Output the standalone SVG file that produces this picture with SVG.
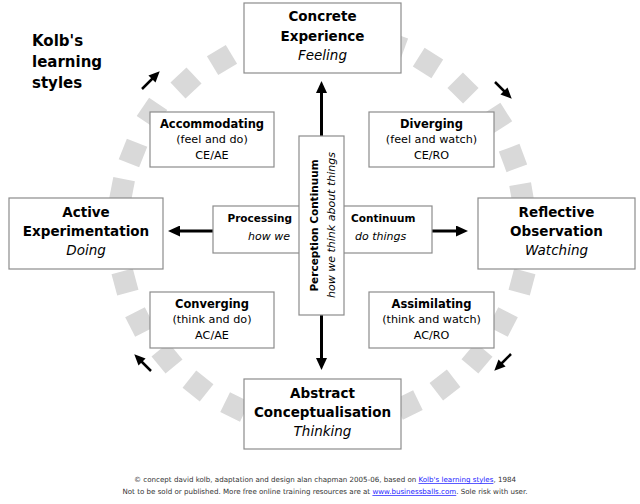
<svg xmlns="http://www.w3.org/2000/svg" width="640" height="504" viewBox="0 0 640 504">
<style>
.box{fill:#fff;stroke:#8c8c8c;stroke-width:1.2}
.sq{fill:#d9d9d9}
text{font-family:"DejaVu Sans",Verdana,sans-serif;fill:#000}
.m{text-anchor:middle}
.bb{font-size:13.5px;font-weight:bold}
.bi{font-size:13.5px;font-style:italic}
.sb{font-size:11.5px;font-weight:bold}
.sr{font-size:11.2px}
.cb{font-size:10.5px;font-weight:bold}
.ci{font-size:11px;font-style:italic}
.arr{stroke:#000;stroke-width:3;fill:none}
.sarr{stroke:#000;stroke-width:2.5;fill:none}
.foot{font-size:7.1px;fill:#333;text-anchor:middle}
.lnk{fill:#1a1aff;text-decoration:underline}
</style>
<defs>
<rect id="s" x="-11" y="-11" width="22" height="22"/>
<marker id="ah" markerUnits="userSpaceOnUse" markerWidth="12" markerHeight="11" refX="6" refY="5.5" orient="auto"><path d="M0,0 L12,5.5 L0,11 z" fill="#000"/></marker>
<marker id="sh" markerUnits="userSpaceOnUse" markerWidth="11" markerHeight="10" refX="5" refY="5" orient="auto"><path d="M0,0 L11,5 L0,10 z" fill="#000"/></marker>
</defs>
<g id="cycle" class="sq">
<use href="#s" transform="translate(222,60) rotate(-120.9)"/>
<use href="#s" transform="translate(186,83) rotate(-133.2)"/>
<use href="#s" transform="translate(152,113) rotate(-145.8)"/>
<use href="#s" transform="translate(133,153) rotate(-158.2)"/>
<use href="#s" transform="translate(122,190) rotate(-169)"/>
<use href="#s" transform="translate(125,282) rotate(165)"/>
<use href="#s" transform="translate(140,322) rotate(153.1)"/>
<use href="#s" transform="translate(167,358) rotate(140.4)"/>
<use href="#s" transform="translate(198,386) rotate(128.5)"/>
<use href="#s" transform="translate(235,407) rotate(116.3)"/>
<use href="#s" transform="translate(394,45) rotate(-70)"/>
<use href="#s" transform="translate(428,63) rotate(-57.7)"/>
<use href="#s" transform="translate(463,88) rotate(-45.2)"/>
<use href="#s" transform="translate(497,118) rotate(-32.5)"/>
<use href="#s" transform="translate(513,158) rotate(-20.5)"/>
<use href="#s" transform="translate(522,195) rotate(-9.7)"/>
<use href="#s" transform="translate(522,282) rotate(14.9)"/>
<use href="#s" transform="translate(503,322) rotate(27.3)"/>
<use href="#s" transform="translate(477,358) rotate(40)"/>
<use href="#s" transform="translate(445,385) rotate(52)"/>
<use href="#s" transform="translate(408,405) rotate(64.2)"/>
</g>
<g id="connectors">
<line class="arr" x1="321.5" y1="136" x2="321.5" y2="87" marker-end="url(#ah)"/>
<line class="arr" x1="321.5" y1="315" x2="321.5" y2="364" marker-end="url(#ah)"/>
<line class="arr" x1="213" y1="231" x2="174" y2="231" marker-end="url(#ah)"/>
<line class="arr" x1="432" y1="231" x2="462" y2="231" marker-end="url(#ah)"/>
<line class="sarr" x1="142" y1="89" x2="155.5" y2="75.5" marker-end="url(#sh)"/>
<line class="sarr" x1="495" y1="82" x2="507.5" y2="94.5" marker-end="url(#sh)"/>
<line class="sarr" x1="511" y1="354" x2="498.5" y2="366.5" marker-end="url(#sh)"/>
<line class="sarr" x1="151" y1="371" x2="138.5" y2="358.5" marker-end="url(#sh)"/>
</g>
<g id="title">
<text x="32" y="46" style="font-size:15px;font-weight:bold">Kolb's</text>
<text x="32" y="67" style="font-size:15px;font-weight:bold">learning</text>
<text x="32" y="88" style="font-size:15px;font-weight:bold">styles</text>
</g>
<g id="concrete">
<rect class="box" x="244" y="3" width="157" height="70"/>
<text class="m bb" x="322.5" y="21">Concrete</text>
<text class="m bb" x="322.5" y="40.5">Experience</text>
<text class="m bi" x="322.5" y="60">Feeling</text>
</g>
<g id="active">
<rect class="box" x="9" y="198" width="154" height="71"/>
<text class="m bb" x="86" y="217">Active</text>
<text class="m bb" x="86" y="236">Experimentation</text>
<text class="m bi" x="86" y="255">Doing</text>
</g>
<g id="reflective">
<rect class="box" x="478" y="198" width="157" height="71"/>
<text class="m bb" x="556.5" y="217">Reflective</text>
<text class="m bb" x="556.5" y="236">Observation</text>
<text class="m bi" x="556.5" y="255">Watching</text>
</g>
<g id="abstract">
<rect class="box" x="244" y="379" width="157" height="70"/>
<text class="m bb" x="322.5" y="398">Abstract</text>
<text class="m bb" x="322.5" y="417">Conceptualisation</text>
<text class="m bi" x="322.5" y="436">Thinking</text>
</g>
<g id="accommodating">
<rect class="box" x="150" y="112" width="124" height="55"/>
<text class="m sb" x="212" y="128">Accommodating</text>
<text class="m sr" x="212" y="143">(feel and do)</text>
<text class="m sr" x="212" y="159">CE/AE</text>
</g>
<g id="diverging">
<rect class="box" x="369" y="112" width="125" height="55"/>
<text class="m sb" x="431.5" y="128">Diverging</text>
<text class="m sr" x="431.5" y="143">(feel and watch)</text>
<text class="m sr" x="431.5" y="159">CE/RO</text>
</g>
<g id="converging">
<rect class="box" x="150" y="292" width="124" height="56"/>
<text class="m sb" x="212" y="308">Converging</text>
<text class="m sr" x="212" y="323">(think and do)</text>
<text class="m sr" x="212" y="339">AC/AE</text>
</g>
<g id="assimilating">
<rect class="box" x="369" y="292" width="125" height="56"/>
<text class="m sb" x="431.5" y="308">Assimilating</text>
<text class="m sr" x="431.5" y="323">(think and watch)</text>
<text class="m sr" x="431.5" y="339">AC/RO</text>
</g>
<g id="processing">
<rect class="box" x="213" y="206" width="219" height="47"/>
<text class="cb" x="292" y="222" text-anchor="end">Processing</text>
<text class="ci" x="290" y="240" text-anchor="end">how we</text>
<text class="cb" x="351" y="222">Continuum</text>
<text class="ci" x="355" y="240">do things</text>
</g>
<g id="perception">
<rect class="box" x="299" y="136" width="45" height="179"/>
<text class="m cb" transform="translate(318,225.5) rotate(-90)">Perception Continuum</text>
<text class="m ci" transform="translate(334.5,225) rotate(-90)">how we think about things</text>
</g>
<g id="footer">
<text class="foot" x="325" y="482">© concept david kolb, adaptation and design alan chapman 2005-06, based on <tspan class="lnk">Kolb's learning styles</tspan>, 1984</text>
<text class="foot" x="325" y="494">Not to be sold or published. More free online training resources are at <tspan class="lnk">www.businessballs.com</tspan>. Sole risk with user.</text>
</g>
</svg>
